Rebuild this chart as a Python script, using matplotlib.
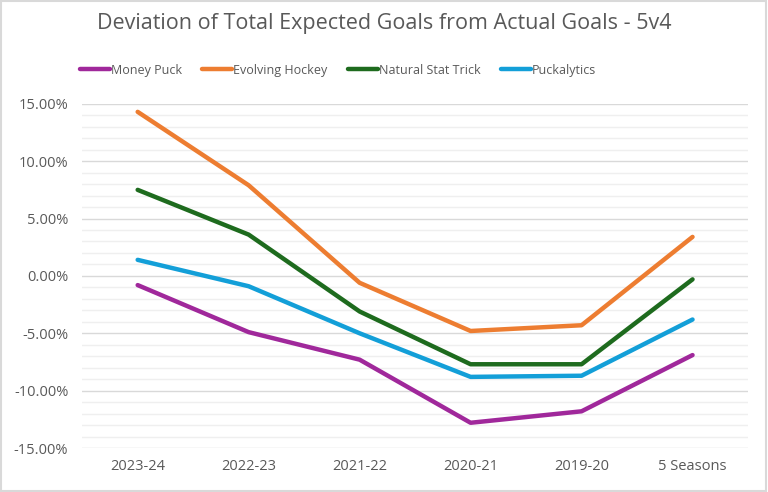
import matplotlib.pyplot as plt
from matplotlib.patches import Rectangle
from matplotlib.ticker import MultipleLocator, FuncFormatter

seasons = ['2023-24', '2022-23', '2021-22', '2020-21', '2019-20', '5 Seasons']
money_puck = [-0.8, -4.9, -7.3, -12.8, -11.8, -6.9]
evolving_hockey = [14.3, 7.9, -0.6, -4.8, -4.3, 3.4]
natural_stat_trick = [7.5, 3.6, -3.1, -7.7, -7.7, -0.3]
puckalytics = [1.4, -0.9, -5.0, -8.8, -8.7, -3.8]

series = [
    ('Money Puck', money_puck, '#a0289b'),
    ('Evolving Hockey', evolving_hockey, '#ed7d31'),
    ('Natural Stat Trick', natural_stat_trick, '#1e6b1e'),
    ('Puckalytics', puckalytics, '#139fd8'),
]

plt.rcParams['font.family'] = ['Open Sans', 'DejaVu Sans']
text_color = '#595959'

fig = plt.figure(figsize=(7.68, 4.92), dpi=100)
ax = fig.add_axes([0.107, 0.0894, 0.867, 0.6996])

x = list(range(len(seasons)))
for name, vals, color in series:
    ax.plot(x, vals, color=color, linewidth=3.2, label=name, solid_capstyle='round', solid_joinstyle='round', zorder=3)

ax.set_xlim(-0.5, len(seasons) - 0.5)
ax.set_ylim(-15, 15)
ax.yaxis.set_major_locator(MultipleLocator(5))
ax.yaxis.set_minor_locator(MultipleLocator(1))
ax.yaxis.set_major_formatter(FuncFormatter(lambda v, p: '%.2f%%' % v))
ax.set_xticks(x)
ax.set_xticklabels(seasons)
ax.grid(axis='y', which='major', color='#d9d9d9', linewidth=1.0)
ax.grid(axis='y', which='minor', color='#efefef', linewidth=1.0)
ax.set_axisbelow(True)
for s in ax.spines.values():
    s.set_visible(False)
ax.tick_params(axis='both', which='both', length=0, colors=text_color, labelsize=10.5)
ax.tick_params(axis='y', pad=10)
ax.tick_params(axis='x', pad=8)

fig.text(0.5, 0.952, 'Deviation of Total Expected Goals from Actual Goals - 5v4',
         ha='center', va='center', fontsize=15.5, color=text_color)

fig.legend(loc='center', bbox_to_anchor=(0.44, 0.857), ncol=4, frameon=False,
           fontsize=9, labelcolor=text_color, handlelength=2.4,
           handletextpad=0.1, columnspacing=1.6)

fig.patches.append(Rectangle((0.001, 0.002), 0.997, 0.995, transform=fig.transFigure,
                             fill=False, edgecolor='#d9d9d9', linewidth=1.5))

fig.savefig('out.png', dpi=100)
